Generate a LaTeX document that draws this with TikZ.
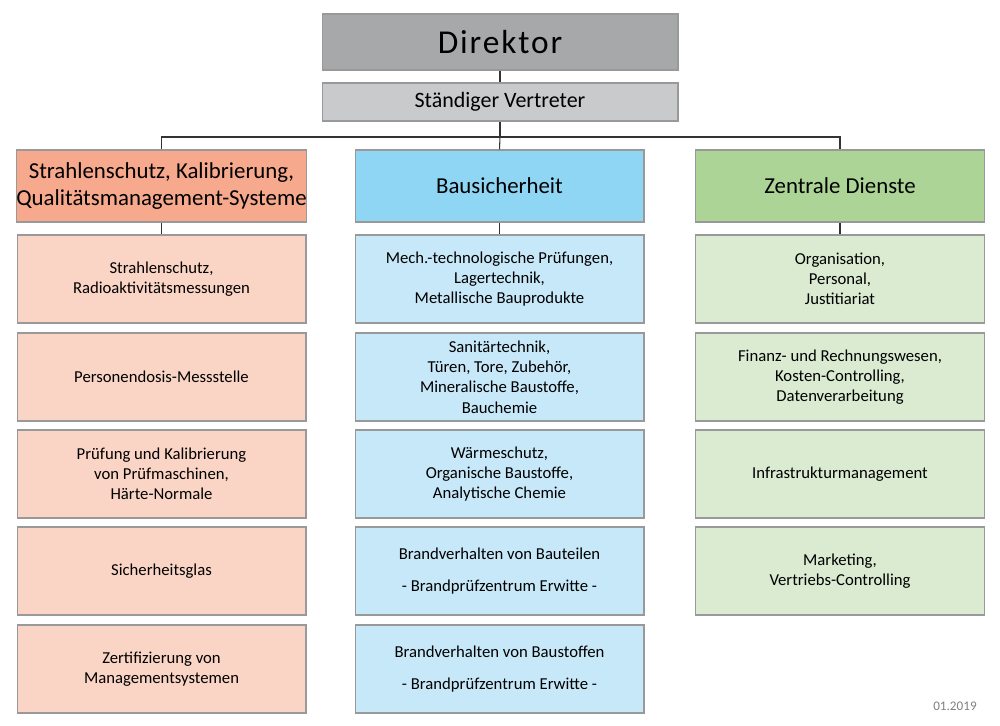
\documentclass[tikz,border=0pt]{standalone}
\usepackage{fontspec}
\setmainfont{Carlito}
\usetikzlibrary{positioning}
\definecolor{hdgray}{HTML}{A7A8AA}
\definecolor{vtgray}{HTML}{C9CACC}
\definecolor{redhd}{HTML}{F6A98D}
\definecolor{redsub}{HTML}{FAD5C5}
\definecolor{bluehd}{HTML}{8FD6F4}
\definecolor{bluesub}{HTML}{C7E8F8}
\definecolor{greenhd}{HTML}{ADD497}
\definecolor{greensub}{HTML}{DAEBD2}

\begin{document}
\begin{tikzpicture}[x=0.02cm, y=-0.02cm,
	box/.style={draw=gray!80, line width=0.6pt, align=center, inner sep=0pt},
	head/.style={box, minimum width=5.78cm, minimum height=1.44cm, font=\fontsize{13}{15.5}\selectfont},
	sub/.style={box, minimum width=5.78cm, minimum height=1.76cm, font=\fontsize{9.5}{11.5}\selectfont},
	link/.style={draw=black!80, line width=0.6pt}]
	\useasboundingbox (0,0) rectangle (1000,726);
	% top
	\node[box, fill=hdgray, minimum width=7.12cm, minimum height=1.12cm, font=\fontsize{19}{23}\selectfont] (dir) at (500,42) {D\kern1pt i\kern1pt r\kern1pt e\kern1pt k\kern1pt t\kern1pt o\kern1pt r};
	\node[box, fill=vtgray, minimum width=7.12cm, minimum height=0.76cm, font=\fontsize{12.5}{15}\selectfont] (vtr) at (500,102) {St\"andiger Vertreter};
	% column heads
	\node[head, fill=redhd] (hdA) at (161.5,186) {Strahlenschutz, Kalibrierung,\\Qualit\"atsmanagement-Systeme};
	\node[head, fill=bluehd] (hdB) at (499.5,186) {Bausicherheit};
	\node[head, fill=greenhd] (hdC) at (840,186) {Zentrale Dienste};
	% links
	\coordinate (jn) at (500,137);
	\draw[link] (dir.south) -- (vtr.north);
	\draw[link] (vtr.south) -- (jn);
	\draw[link] (hdA.north) |- (jn) -| (hdC.north);
	\draw[link] (jn) -- (hdB.north);
	% column A
	\node[sub, fill=redsub] (a1) at (161.5,279) {Strahlenschutz,\\Radioaktivit\"atsmessungen};
	\node[sub, fill=redsub] (a2) at (161.5,377) {Personendosis-Messstelle};
	\node[sub, fill=redsub] (a3) at (161.5,474) {Pr\"ufung und Kalibrierung\\von Pr\"ufmaschinen,\\H\"arte-Normale};
	\node[sub, fill=redsub] (a4) at (161.5,571) {Sicherheitsglas};
	\node[sub, fill=redsub] (a5) at (161.5,669) {Zertifizierung von\\Managementsystemen};
	% column B
	\node[sub, fill=bluesub] (b1) at (499.5,279) {Mech.-technologische Pr\"ufungen,\\Lagertechnik,\\Metallische Bauprodukte};
	\node[sub, fill=bluesub] (b2) at (499.5,377) {Sanit\"artechnik,\\T\"uren, Tore, Zubeh\"or,\\Mineralische Baustoffe,\\Bauchemie};
	\node[sub, fill=bluesub] (b3) at (499.5,474) {W\"armeschutz,\\Organische Baustoffe,\\Analytische Chemie};
	\node[sub, fill=bluesub] (b4) at (499.5,571) {Brandverhalten von Bauteilen\\[7pt]- Brandpr\"ufzentrum Erwitte -};
	\node[sub, fill=bluesub] (b5) at (499.5,669) {Brandverhalten von Baustoffen\\[7pt]- Brandpr\"ufzentrum Erwitte -};
	% column C
	\node[sub, fill=greensub] (c1) at (840,279) {Organisation,\\Personal,\\Justitiariat};
	\node[sub, fill=greensub] (c2) at (840,377) {Finanz- und Rechnungswesen,\\Kosten-Controlling,\\Datenverarbeitung};
	\node[sub, fill=greensub] (c3) at (840,474) {Infrastrukturmanagement};
	\node[sub, fill=greensub] (c4) at (840,571) {Marketing,\\Vertriebs-Controlling};
	\foreach \u/\v in {hdA/a1, hdB/b1, hdC/c1}
		\draw[link] (\u.south) -- (\v.north);
	\node[font=\fontsize{7.5}{9}\selectfont, text=gray] (date) at (955,706) {01.2019};
\end{tikzpicture}
\end{document}
